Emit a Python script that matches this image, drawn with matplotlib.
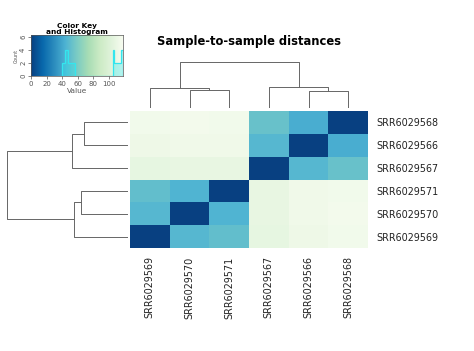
import numpy as np
import matplotlib
matplotlib.use("Agg")
import matplotlib.pyplot as plt

# samples in dendrogram order (columns left->right, rows bottom->top)
samples = ["SRR6029569", "SRR6029570", "SRR6029571",
           "SRR6029567", "SRR6029566", "SRR6029568"]

# sample-to-sample distances
dist = np.array([
    [0,   47,  51,  107, 112, 114],
    [47,  0,   45,  108, 113, 115],
    [51,  45,  0,   108, 113, 114],
    [107, 108, 108, 0,   47,  53],
    [112, 113, 113, 47,  0,   42],
    [114, 115, 114, 53,  42,  0],
], dtype=float)

key_max = 118
key_ticks = [0, 20, 40, 60, 80, 100]
count_ticks = [0, 2, 4, 6]

# histogram of the colour key (step outline)
hist_edges = [40, 44, 47, 50, 53, 57, 105, 107, 110, 113, 116, 118]
hist_counts = [2, 4, 2, 2, 2, 0, 4, 2, 2, 2, 4]

W, H = 474, 351
fig = plt.figure(figsize=(W / 100, H / 100), dpi=100)


def px_axes(l, t, r, b):
    return fig.add_axes([l / W, 1 - b / H, (r - l) / W, (b - t) / H])


def complete_linkage(D):
    n = len(D)
    members = {i: [i] for i in range(n)}
    pos = {i: i + 0.5 for i in range(n)}
    height = {i: 0.0 for i in range(n)}
    merges = []
    nxt = n
    while len(members) > 1:
        keys = list(members)
        best = None
        for i in range(len(keys)):
            for j in range(i + 1, len(keys)):
                a, b = keys[i], keys[j]
                h = max(D[p, q] for p in members[a] for q in members[b])
                if best is None or h < best[2]:
                    best = (a, b, h)
        a, b, h = best
        merges.append((pos[a], height[a], pos[b], height[b], h))
        members[nxt] = members.pop(a) + members.pop(b)
        pos[nxt] = (pos[a] + pos[b]) / 2
        height[nxt] = h
        nxt += 1
    return merges


merges = complete_linkage(dist)
root = merges[-1][4]
lc = "#666666"
lw = 0.7

# heatmap
ax = px_axes(130, 111, 368, 248)
ax.pcolormesh(np.arange(7), np.arange(7), dist, cmap="GnBu_r",
              vmin=0, vmax=key_max)
ax.set_xlim(0, 6)
ax.set_ylim(0, 6)
ax.set_xticks(np.arange(6) + 0.5)
ax.set_xticklabels(samples, rotation=90, fontsize=6.9)
ax.set_yticks(np.arange(6) + 0.5)
ax.set_yticklabels(samples, fontsize=6.9)
ax.yaxis.tick_right()
ax.tick_params(length=0, pad=6, colors="#222222")
for s in ax.spines.values():
    s.set_visible(False)

# column dendrogram
axc = px_axes(130, 62, 368, 108)
for xa, ha, xb, hb, h in merges:
    axc.plot([xa, xa, xb, xb], [ha, h, h, hb], color=lc, lw=lw)
axc.set_xlim(0, 6)
axc.set_ylim(0, root)
axc.axis("off")

# row dendrogram
axr = px_axes(7, 111, 128, 248)
for ya, ha, yb, hb, h in merges:
    axr.plot([ha, h, h, hb], [ya, ya, yb, yb], color=lc, lw=lw)
axr.set_xlim(root, 0)
axr.set_ylim(0, 6)
axr.axis("off")

# colour key with histogram
axk = px_axes(31, 35, 123, 76)
grad = np.linspace(0, key_max, 256)[None, :]
axk.imshow(grad, cmap="GnBu_r", vmin=0, vmax=key_max, aspect="auto",
           extent=[0, key_max, 0, 6.3])
axk.stairs(hist_counts, hist_edges, color="#33e6ee", lw=0.9)
axk.stairs(hist_counts, hist_edges, fill=True, color="#33e6ee", alpha=0.35)
axk.set_xlim(0, key_max)
axk.set_ylim(0, 6.3)
axk.set_xticks(key_ticks)
axk.set_xticklabels([str(t) for t in key_ticks], fontsize=5, color="#555555")
axk.set_yticks(count_ticks)
axk.set_yticklabels([str(t) for t in count_ticks], fontsize=5,
                    rotation=90, va="center", color="#555555")
axk.tick_params(length=2, width=0.5, pad=1.5, colors="#555555")
axk.set_xlabel("Value", fontsize=5.3, labelpad=1, color="#555555")
axk.set_ylabel("Count", fontsize=3.4, labelpad=1, color="#555555")
axk.set_title("Color Key\nand Histogram", fontsize=5.3, fontweight="bold",
              pad=1, linespacing=1.0)
for s in axk.spines.values():
    s.set_linewidth(0.5)
    s.set_color("#555555")

fig.text(249 / W, 1 - 42 / H, "Sample-to-sample distances", ha="center",
         va="center", fontsize=8.3, fontweight="bold")

fig.savefig("out.png", dpi=100)
